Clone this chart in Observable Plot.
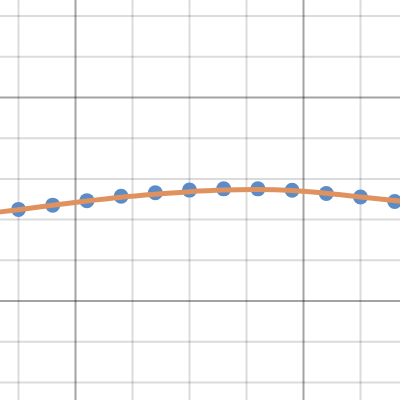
<!DOCTYPE html>
<html>
<head>
<meta charset="utf-8">
<script src="https://cdn.jsdelivr.net/npm/d3@7"></script>
<script src="https://cdn.jsdelivr.net/npm/@observablehq/plot@0.6"></script>
<style>
  html, body { margin: 0; padding: 0; background: #fff; }
  #chart svg { display: block; }
</style>
</head>
<body>
<div id="chart"></div>
<script>
// Data points
const pointX = [-0.5, -0.2, 0.1, 0.4, 0.7, 1.0, 1.3, 1.6, 1.9, 2.2, 2.5, 2.8];
const pointY = [0.450, 0.471, 0.493, 0.515, 0.532, 0.545, 0.551, 0.551, 0.544, 0.528, 0.511, 0.489];

// Fitted curve samples
const curveX = [-0.66, -0.5, -0.2, 0.1, 0.4, 0.7, 1.0, 1.3, 1.6, 1.9, 2.2, 2.5, 2.86];
const curveY = [0.438, 0.4485, 0.4706, 0.4917, 0.510, 0.5245, 0.537, 0.545, 0.5475, 0.5426, 0.529, 0.511, 0.490];

// Grid ticks
const xMinor = [-0.5, 0.5, 1, 1.5, 2.5, 3];
const xMajor = [0, 2];
const yMinor = [-0.4, -0.2, 0.2, 0.4, 0.6, 0.8, 1.2, 1.4];
const yMajor = [0, 1];

const points = pointX.map((x, i) => ({x, y: pointY[i]}));
const curve = curveX.map((x, i) => ({x, y: curveY[i]}));

const chart = Plot.plot({
  width: 400,
  height: 400,
  margin: 0,
  x: {domain: [-75 / 114, 325 / 114], axis: null},
  y: {domain: [-99.5 / 203.5, 300.5 / 203.5], axis: null},
  marks: [
    Plot.ruleX(xMinor, {stroke: "#000", strokeOpacity: 0.14, strokeWidth: 2}),
    Plot.ruleY(yMinor, {stroke: "#000", strokeOpacity: 0.14, strokeWidth: 2}),
    Plot.ruleX(xMajor, {stroke: "#000", strokeOpacity: 0.36, strokeWidth: 2}),
    Plot.ruleY(yMajor, {stroke: "#000", strokeOpacity: 0.36, strokeWidth: 2}),
    Plot.dot(points, {x: "x", y: "y", r: 7.5, fill: "#5b8cc8", stroke: "none"}),
    Plot.line(curve, {x: "x", y: "y", curve: "catmull-rom", stroke: "#e0925e", strokeWidth: 5})
  ]
});
document.getElementById("chart").append(chart);
</script>
</body>
</html>
